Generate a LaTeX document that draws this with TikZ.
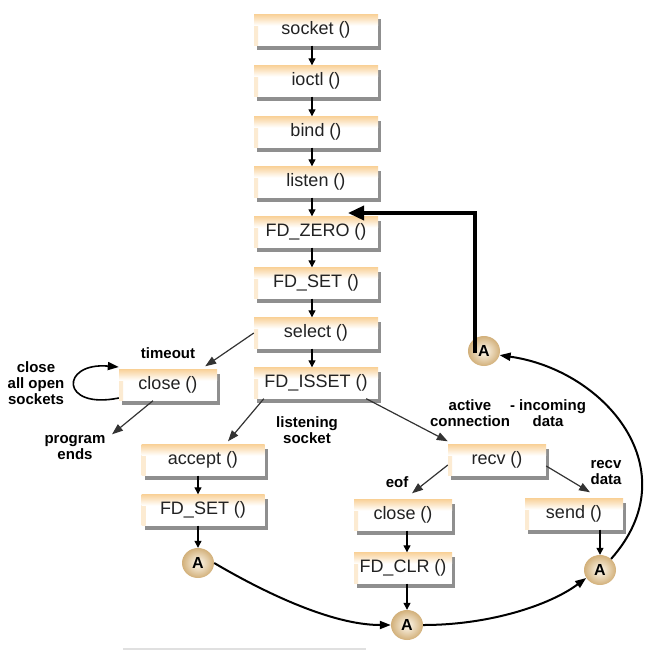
\documentclass[tikz,border=0pt]{standalone}
\usepackage{fontspec}
\setmainfont{Liberation Sans}
\usetikzlibrary{arrows.meta,shadows,calc,shapes.geometric}
\definecolor{bandor}{HTML}{F9D29A}
\definecolor{ballin}{HTML}{FFFAF0}
\definecolor{ballout}{HTML}{D2B07A}
\definecolor{lnk}{HTML}{333333}
\definecolor{txt}{HTML}{222222}
\begin{document}
\begin{tikzpicture}[x=1pt,y=-1pt,
  fbox/.style={fill=white, minimum height=31pt, inner sep=0pt, text=txt,
    font=\fontsize{18}{20}\selectfont,
    drop shadow={shadow xshift=3pt, shadow yshift=-4pt, fill=black!80, opacity=.55},
    path picture={
      \shade[left color=bandor!45, right color=white]
        ([yshift=-10pt]path picture bounding box.north west) rectangle ([xshift=4pt]path picture bounding box.south west);
      \shade[top color=bandor, bottom color=white]
        (path picture bounding box.north west) rectangle ([yshift=-11pt]path picture bounding box.north east);}},
  wide/.style={fbox, minimum width=124pt},
  narrow/.style={fbox, minimum width=98pt},
  ball/.style={ellipse, minimum width=32pt, minimum height=30pt, inner sep=0pt, shading=radial,
    inner color=ballin, outer color=ballout,
    font=\fontsize{16}{16}\selectfont\bfseries},
  lbl/.style={align=center, font=\fontsize{15}{16}\selectfont\bfseries},
  varrow/.style={line width=1.2pt, -{Triangle[length=7pt,width=7pt]}},
  link/.style={draw=lnk, line width=1.2pt, -{Triangle[length=11pt,width=8pt]}},
  curve/.style={line width=2pt, -{Triangle[length=11pt,width=8pt]}},
  fb/.style={line width=3.5pt, -{Triangle[length=16pt,width=14pt]}}
]
\useasboundingbox (0,0) rectangle (672,651);

% main column
\node[wide] (socket) at (316,30) {socket ()};
\node[wide] (ioctl) at (316,81) {ioctl ()};
\node[wide] (bind) at (316,132) {bind ()};
\node[wide] (listen) at (316,182) {listen ()};
\node[wide] (fdzero) at (316,232) {FD\_ZERO ()};
\node[wide] (fdset) at (316,283) {FD\_SET ()};
\node[wide] (select) at (316,333) {select ()};
\node[wide] (fdisset) at (316,383) {FD\_ISSET ()};

% branches
\node[narrow] (close) at (168,385) {close ()};
\node[fbox, minimum width=123pt] (accept) at (203,460) {accept ()};
\node[fbox, minimum width=123pt] (fdset2) at (203,510) {FD\_SET ()};
\node[narrow] (recv) at (497,460) {recv ()};
\node[narrow] (close2) at (403,515) {close ()};
\node[narrow] (fdclr) at (403,568) {FD\_CLR ()};
\node[narrow] (send) at (574,514) {send ()};

% labels
\node[lbl] (timeout) at (168,353) {timeout};
\node[lbl] (closeall) at (36,383) {close\\all open\\sockets};
\node[lbl] (progends) at (75,448) {program\\ends};
\node[lbl] (listening) at (307,430) {listening\\socket};
\node[lbl] (active) at (470,413) {active\\connection};
\node[lbl] (incoming) at (548,413) {- incoming\\data};
\node[lbl] (eof) at (397,482) {eof};
\node[lbl] (recvdata) at (606,473) {recv\\data};

% vertical arrows in main column
\foreach \a/\b in {socket/ioctl, ioctl/bind, bind/listen, listen/fdzero, fdzero/fdset, fdset/select, select/fdisset}
  \draw[varrow] ([xshift=-4pt]\a.south) -- ([xshift=-4pt]\b.north);

% diagonal links
\draw[link] (select.west) -- ([xshift=-12pt,yshift=3pt]close.north east);
\draw[link] ([xshift=-15pt]close.south) -- ([xshift=37pt,yshift=-2pt]progends.north);
\draw[line width=1.6pt, -{Triangle[length=11pt,width=8pt]}]
  ([yshift=-13pt]close.west) .. controls (60,410) and (60,362) .. ([yshift=18pt]close.west);
\draw[link] ([xshift=10pt]fdisset.south west) -- ([xshift=25pt,yshift=3pt]accept.north);
\draw[link] ([xshift=-12pt]fdisset.south east) -- ([yshift=3pt]recv.north west);
\draw[link] ([yshift=-5pt]recv.west) -- ([xshift=9pt,yshift=6pt]close2.north);
\draw[link] ([yshift=-6pt]recv.east) -- ([xshift=16pt,yshift=6pt]send.north);

% A connectors
\node[ball] (A1) at (198,563) {A};
\node[ball] (A2) at (407,625) {A};
\node[ball] (A3) at (600,570) {A};
\node[ball] (A4) at (484,351) {A};

\draw[varrow] (accept.south -| A1) -- (fdset2.north -| A1);
\draw[varrow] (fdset2.south -| A1) -- (A1.north);
\draw[varrow] (close2.south -| A2) -- (fdclr.north -| A2);
\draw[varrow] (fdclr.south -| A2) -- (A2.north);
\draw[varrow] (send.south -| A3) -- (A3.north);

\draw[curve] (A1.east) .. controls (260,590) and (330,625) .. (A2.west);
\draw[curve] (A2.east) .. controls (490,625) and (550,605) .. (A3.210);
\draw[curve] (A3.45) .. controls (690,470) and (605,370) .. (A4.-15);

\coordinate (fbtip) at (348,213);
\draw[fb] ([xshift=-9pt,yshift=-2pt]A4.center) |- (fbtip);

% bottom rule
\draw[black!12, line width=2.5pt] (123,649) -- (366,649);
\end{tikzpicture}
\end{document}
